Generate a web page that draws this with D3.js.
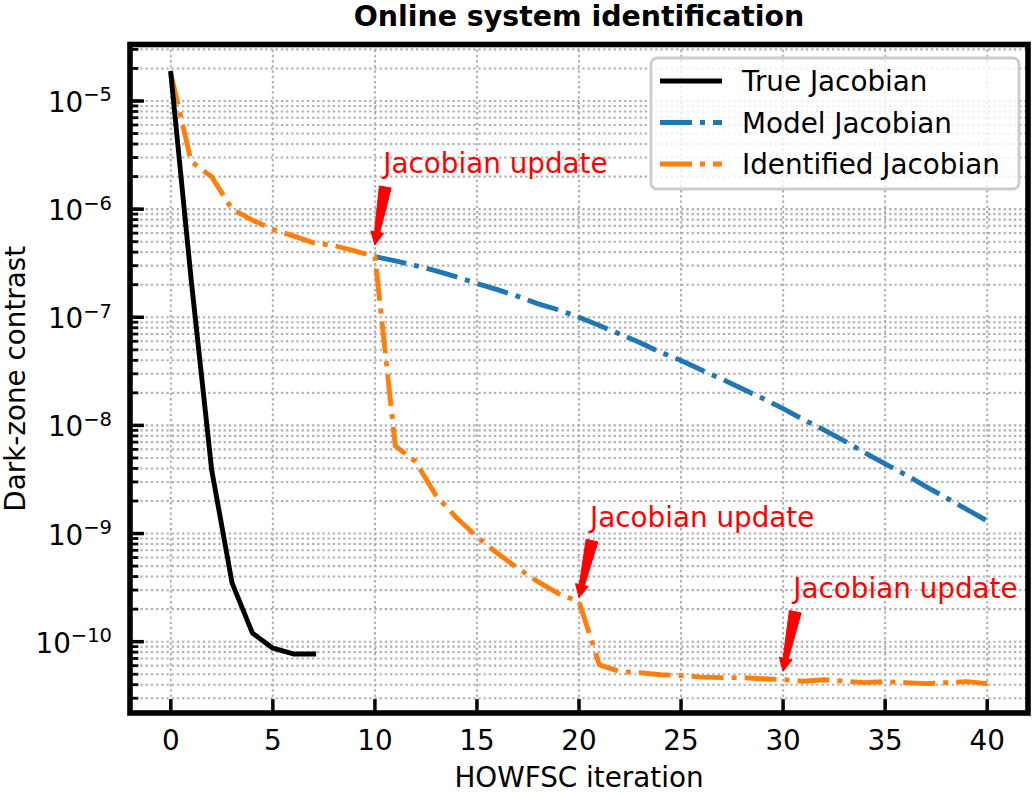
<!DOCTYPE html>
<html><head><meta charset="utf-8">
<script src="https://cdn.jsdelivr.net/npm/d3@7"></script>
<style>body{margin:0;background:#fff} svg{display:block} text{font-family:"DejaVu Sans",sans-serif}</style>
</head><body><svg id="c" width="1033" height="795"></svg>
<script>
// ---------------- data ----------------
const iterTrue = d3.range(0, 8);
const trueJac = [1.8e-5, 2.2e-7, 3.9e-9, 3.5e-10, 1.2e-10, 8.7e-11, 7.7e-11, 7.7e-11];

const iterModel = d3.range(10, 41);
const modelJac = [3.64e-7, 3.32e-7, 3.0e-7, 2.69e-7, 2.36e-7, 2.05e-7, 1.80e-7, 1.56e-7, 1.33e-7, 1.17e-7,
  1.0e-7, 8.4e-8, 7.0e-8, 5.8e-8, 4.75e-8, 3.98e-8, 3.26e-8, 2.68e-8, 2.18e-8, 1.78e-8,
  1.43e-8, 1.13e-8, 9.1e-9, 7.2e-9, 5.6e-9, 4.4e-9, 3.5e-9, 2.72e-9, 2.14e-9, 1.67e-9, 1.31e-9];

const iterIdent = d3.range(0, 41);
const identJac = [1.8e-5, 2.75e-6, 1.99e-6, 1.00e-6, 7.9e-7, 6.5e-7, 5.65e-7, 4.87e-7, 4.6e-7, 4.11e-7,
  3.64e-7, 6.47e-9, 4.61e-9, 2.24e-9, 1.40e-9, 9.3e-10, 6.57e-10, 4.77e-10, 3.58e-10, 2.78e-10,
  2.35e-10, 6.1e-11, 5.3e-11, 5.16e-11, 4.95e-11, 4.85e-11, 4.7e-11, 4.65e-11, 4.65e-11, 4.54e-11,
  4.45e-11, 4.31e-11, 4.45e-11, 4.31e-11, 4.18e-11, 4.27e-11, 4.18e-11, 4.09e-11, 4.18e-11, 4.27e-11, 4.09e-11];

const seriesNames = ["True Jacobian", "Model Jacobian", "Identified Jacobian"];
const seriesColors = ["#000000", "#1f77b4", "#ff7f0e"];

const xTicks = [0, 5, 10, 15, 20, 25, 30, 35, 40];
const yTickExps = [-10, -9, -8, -7, -6, -5];
const xLimits = [-2, 42];
const yLimits = [2.19e-11, 3.33e-5];

const updateLabel = "Jacobian update";
const updateIter = [10, 20, 30];
const updateTipVal = [4.67e-7, 2.55e-10, 5.32e-11];
const updateTextIter = [10.41, 20.54, 30.5];
const updateTextVal = [2.16e-6, 1.16e-9, 2.55e-10];

const titleText = "Online system identification";
const xLabel = "HOWFSC iteration";
const yLabel = "Dark-zone contrast";

// ---------------- layout ----------------
const L = 130, R = 1028, T = 44.5, B = 713;
const FS = 27.8;
const svg = d3.select("#c");
const x = d3.scaleLinear().domain(xLimits).range([L, R]);
const y = d3.scaleLog().domain(yLimits).range([B, T]);

svg.append("defs").append("clipPath").attr("id", "clip")
  .append("rect").attr("x", L).attr("y", T).attr("width", R - L).attr("height", B - T);

// grid
const minorVals = [];
for (let e = -12; e <= -4; e++) for (let m = 1; m <= 9; m++) {
  const v = m * Math.pow(10, e);
  if (v >= yLimits[0] && v <= yLimits[1]) minorVals.push(v);
}
const grid = svg.append("g").attr("clip-path", "url(#clip)")
  .attr("stroke", "#b0b0b0").attr("stroke-width", 2.1).attr("stroke-dasharray", "2.3,2.9").attr("fill", "none");
grid.selectAll("line.h").data(minorVals).join("line").attr("class", "h")
  .attr("x1", L).attr("x2", R).attr("y1", d => y(d)).attr("y2", d => y(d));
grid.selectAll("line.v").data(xTicks).join("line").attr("class", "v")
  .attr("x1", d => x(d)).attr("x2", d => x(d)).attr("y1", T).attr("y2", B);

// lines
const lineGen = d3.line().x(d => x(d[0])).y(d => y(d[1]));
const plot = svg.append("g").attr("clip-path", "url(#clip)");
const dashDot = "32,8,5,8";
plot.append("path").datum(iterModel.map((d, i) => [d, modelJac[i]]))
  .attr("d", lineGen).attr("fill", "none").attr("stroke", seriesColors[1]).attr("stroke-width", 4.9)
  .attr("stroke-dasharray", dashDot).attr("stroke-linejoin", "round");
plot.append("path").datum(iterIdent.map((d, i) => [d, identJac[i]]))
  .attr("d", lineGen).attr("fill", "none").attr("stroke", seriesColors[2]).attr("stroke-width", 4.9)
  .attr("stroke-dasharray", dashDot).attr("stroke-linejoin", "round");
plot.append("path").datum(iterTrue.map((d, i) => [d, trueJac[i]]))
  .attr("d", lineGen).attr("fill", "none").attr("stroke", seriesColors[0]).attr("stroke-width", 4.9)
  .attr("stroke-linejoin", "round").attr("stroke-linecap", "square");

// ticks (inward)
const ticks = svg.append("g").attr("stroke", "#000");
ticks.selectAll("line.xt").data(xTicks).join("line")
  .attr("x1", d => x(d)).attr("x2", d => x(d)).attr("y1", B).attr("y2", B - 13.9).attr("stroke-width", 3.5);
ticks.selectAll("line.ymin").data(minorVals).join("line")
  .attr("x1", L).attr("x2", L + 8.3).attr("y1", d => y(d)).attr("y2", d => y(d)).attr("stroke-width", 2.8);
ticks.selectAll("line.ymaj").data(yTickExps).join("line")
  .attr("x1", L).attr("x2", L + 13.9).attr("y1", d => y(Math.pow(10, d))).attr("y2", d => y(Math.pow(10, d))).attr("stroke-width", 3.5);

// spines
svg.append("rect").attr("x", L).attr("y", T).attr("width", R - L).attr("height", B - T)
  .attr("fill", "none").attr("stroke", "#000").attr("stroke-width", 5.6);

// tick labels
svg.append("g").selectAll("text").data(xTicks).join("text")
  .attr("x", d => x(d)).attr("y", 750).attr("text-anchor", "middle").attr("font-size", FS).text(d => d);
const yl = svg.append("g").selectAll("text").data(yTickExps).join("text")
  .attr("x", 112).attr("y", d => y(Math.pow(10, d)) + 11).attr("text-anchor", "end").attr("font-size", FS);
yl.append("tspan").text("10");
yl.append("tspan").attr("font-size", 19.5).attr("dy", -10.5).text(d => "\u2212" + Math.abs(d));

// axis labels + title
svg.append("text").attr("x", (L + R) / 2).attr("y", 787).attr("text-anchor", "middle").attr("font-size", FS).text(xLabel);
svg.append("text").attr("transform", `translate(25,${(T + B) / 2}) rotate(-90)`).attr("text-anchor", "middle").attr("font-size", FS).text(yLabel);
svg.append("text").attr("x", (L + R) / 2).attr("y", 25.5).attr("text-anchor", "middle").attr("font-size", 28.4)
  .attr("font-weight", "bold").text(titleText);

// annotations
const ann = svg.append("g");
updateIter.forEach((it, k) => {
  const tx = x(updateTextIter[k]), ty = y(updateTextVal[k]);
  ann.append("text").attr("x", tx).attr("y", ty).attr("fill", "red").attr("font-size", FS).text(updateLabel);
  const tail = [tx + 2, ty + 14];
  const tip = [x(it), y(updateTipVal[k])];
  const dx = tip[0] - tail[0], dy = tip[1] - tail[1], len = Math.hypot(dx, dy);
  const ux = dx / len, uy = dy / len, nx = -uy, ny = ux;
  const hl = 13, hw = 6.5, tw = 6, sw = 2.6;
  const bx = tip[0] - ux * hl, by = tip[1] - uy * hl;
  const pts = [
    [tail[0] + nx * tw, tail[1] + ny * tw],
    [bx + nx * sw, by + ny * sw],
    [bx + nx * hw, by + ny * hw],
    tip,
    [bx - nx * hw, by - ny * hw],
    [bx - nx * sw, by - ny * sw],
    [tail[0] - nx * tw, tail[1] - ny * tw]
  ];
  ann.append("path").attr("d", "M" + pts.map(p => p.join(",")).join("L") + "Z").attr("fill", "red").attr("stroke", "red").attr("stroke-width", 1);
});

// legend
const lg = svg.append("g");
lg.append("rect").attr("x", 651).attr("y", 58).attr("width", 368).attr("height", 131).attr("rx", 6)
  .attr("fill", "#fff").attr("fill-opacity", 0.8).attr("stroke", "#cccccc").attr("stroke-width", 2.8);
seriesNames.forEach((name, k) => {
  const cy = 81 + k * 41.5;
  const ln = lg.append("line").attr("x1", 660).attr("x2", 722).attr("y1", cy).attr("y2", cy)
    .attr("stroke", seriesColors[k]).attr("stroke-width", 4.9);
  if (k > 0) ln.attr("stroke-dasharray", dashDot);
  lg.append("text").attr("x", 742).attr("y", cy + 10).attr("font-size", FS).text(name);
});
</script></body></html>
